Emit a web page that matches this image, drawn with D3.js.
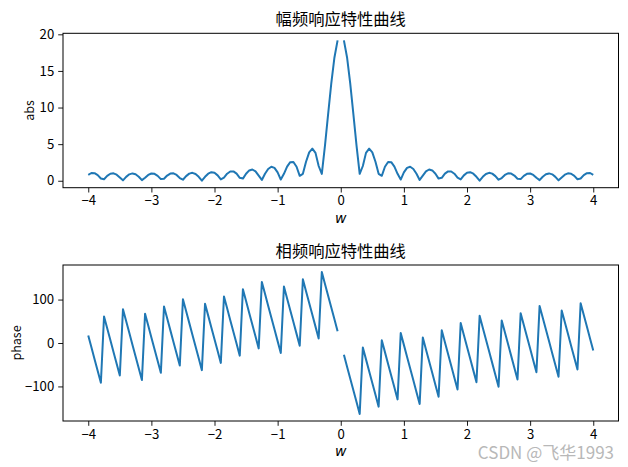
<!DOCTYPE html>
<html><head><meta charset="utf-8">
<script src="https://cdn.jsdelivr.net/npm/d3@7/dist/d3.min.js"></script>
<style>
html,body{margin:0;padding:0;background:#fff;}
svg{display:block;font-family:"Noto Sans CJK SC","DejaVu Sans",sans-serif;}
</style></head>
<body>
<script>
// frequency samples w
const w = [
-4,-3.95,-3.9,-3.85,-3.8,-3.75,-3.7,-3.65,-3.6,-3.55,
-3.5,-3.45,-3.4,-3.35,-3.3,-3.25,-3.2,-3.15,-3.1,-3.05,
-3,-2.95,-2.9,-2.85,-2.8,-2.75,-2.7,-2.65,-2.6,-2.55,
-2.5,-2.45,-2.4,-2.35,-2.3,-2.25,-2.2,-2.15,-2.1,-2.05,
-2,-1.95,-1.9,-1.85,-1.8,-1.75,-1.7,-1.65,-1.6,-1.55,
-1.5,-1.45,-1.4,-1.35,-1.3,-1.25,-1.2,-1.15,-1.1,-1.05,
-1,-0.95,-0.9,-0.85,-0.8,-0.75,-0.7,-0.65,-0.6,-0.55,
-0.5,-0.45,-0.4,-0.35,-0.3,-0.25,-0.2,-0.15,-0.1,-0.05,
0,
0.05,0.1,0.15,0.2,0.25,0.3,0.35,0.4,0.45,0.5,
0.55,0.6,0.65,0.7,0.75,0.8,0.85,0.9,0.95,1,
1.05,1.1,1.15,1.2,1.25,1.3,1.35,1.4,1.45,1.5,
1.55,1.6,1.65,1.7,1.75,1.8,1.85,1.9,1.95,2,
2.05,2.1,2.15,2.2,2.25,2.3,2.35,2.4,2.45,2.5,
2.55,2.6,2.65,2.7,2.75,2.8,2.85,2.9,2.95,3,
3.05,3.1,3.15,3.2,3.25,3.3,3.35,3.4,3.45,3.5,
3.55,3.6,3.65,3.7,3.75,3.8,3.85,3.9,3.95,4
];
// magnitude |X(w)| (value at w=0 missing in the original plot)
const absVals = [
0.819,1.059,1.038,0.766,0.313,0.207,0.669,0.963,1.018,0.826,
0.435,0.058,0.534,0.876,1.003,0.885,0.552,0.084,0.404,0.794,
0.991,0.945,0.669,0.226,0.275,0.713,0.980,1.010,0.791,0.375,
0.139,0.629,0.972,1.082,0.927,0.540,0.010,0.536,0.965,1.166,
1.085,0.732,0.184,0.429,0.959,1.271,1.280,0.969,0.401,0.295,
0.954,1.410,1.538,1.286,0.694,0.113,0.950,1.610,1.913,1.755,
1.135,0.164,0.947,1.937,2.541,2.561,1.916,0.674,0.946,2.598,
3.876,4.381,3.809,2.015,0.944,4.800,9.108,13.31,16.84,19.18,
null,
19.18,16.84,13.31,9.108,4.800,0.944,2.015,3.809,4.381,3.876,
2.598,0.946,0.674,1.916,2.561,2.541,1.937,0.947,0.164,1.135,
1.755,1.913,1.610,0.950,0.113,0.694,1.286,1.538,1.410,0.954,
0.295,0.401,0.969,1.280,1.271,0.959,0.429,0.184,0.732,1.085,
1.166,0.965,0.536,0.010,0.540,0.927,1.082,0.972,0.629,0.139,
0.375,0.791,1.010,0.980,0.713,0.275,0.226,0.669,0.945,0.991,
0.794,0.404,0.084,0.552,0.885,1.003,0.876,0.534,0.058,0.435,
0.826,1.018,0.963,0.669,0.207,0.313,0.766,1.038,1.059,0.819
];
// phase in degrees
const phaseVals = [
17.24,-9.98,-37.19,-64.41,-91.62,61.16,33.95,6.73,-20.48,-47.70,
-74.91,77.87,50.65,23.44,-3.78,-30.99,-58.21,-85.42,67.36,40.15,
12.93,-14.29,-41.50,-68.72,84.07,56.85,29.64,2.42,-24.79,-52.01,
100.78,73.56,46.34,19.13,-8.09,-35.30,-62.52,90.27,63.05,35.84,
8.62,-18.60,-45.81,106.97,79.76,52.54,25.33,-1.89,-29.10,123.68,
96.47,69.25,42.03,14.82,-12.40,140.39,113.17,85.96,58.74,31.53,
4.31,-22.91,129.88,102.66,75.45,48.23,21.02,-6.20,146.59,119.37,
92.16,64.94,37.72,10.51,163.29,136.08,108.86,81.65,54.43,27.22,
null,
-27.22,-54.43,-81.65,-108.86,-136.08,-163.29,-10.51,-37.72,-64.94,-92.16,
-119.37,-146.59,6.20,-21.02,-48.23,-75.45,-102.66,-129.88,22.91,-4.31,
-31.53,-58.74,-85.96,-113.17,-140.39,12.40,-14.82,-42.03,-69.25,-96.47,
-123.68,29.10,1.89,-25.33,-52.54,-79.76,-106.97,45.81,18.60,-8.62,
-35.84,-63.05,-90.27,62.52,35.30,8.09,-19.13,-46.34,-73.56,-100.78,
52.01,24.79,-2.42,-29.64,-56.85,-84.07,68.72,41.50,14.29,-12.93,
-40.15,-67.36,85.42,58.21,30.99,3.78,-23.44,-50.65,-77.87,74.91,
47.70,20.48,-6.73,-33.95,-61.16,91.62,64.41,37.19,9.98,-17.24
];
const xTicks = [-4,-3,-2,-1,0,1,2,3,4];
const absTicks = [0,5,10,15,20];
const phaseTicks = [-100,0,100];
const titles = ["幅频响应特性曲线","相频响应特性曲线"];
const yLabels = ["abs","phase"];
const xLabel = "w";

const W = 628, H = 467;
const svg = d3.select("body").append("svg").attr("width", W).attr("height", H);

const left = 63, right = 618.5;
const panels = [
  {vals: absVals, ticks: absTicks, top: 33.3, bottom: 187.7, title: titles[0], ylab: yLabels[0], ylabX: 28},
  {vals: phaseVals, ticks: phaseTicks, top: 265, bottom: 421, title: titles[1], ylab: yLabels[1], ylabX: 15}
];

function padded(ext){ const m = (ext[1]-ext[0])*0.05; return [ext[0]-m, ext[1]+m]; }

const xExt = padded(d3.extent(w));
const tickFont = 13.2;

panels.forEach(p => {
  const x = d3.scaleLinear().domain(xExt).range([left, right]);
  const y = d3.scaleLinear().domain(padded(d3.extent(p.vals.filter(v => v !== null)))).range([p.bottom, p.top]);
  const g = svg.append("g");

  const data = w.map((d,i) => [d, p.vals[i]]);
  const line = d3.line().defined(d => d[1] !== null).x(d => x(d[0])).y(d => y(d[1]));

  g.append("defs").append("clipPath").attr("id", "clip" + p.top)
    .append("rect").attr("x", left).attr("y", p.top).attr("width", right-left).attr("height", p.bottom-p.top);

  g.append("path").datum(data).attr("d", line)
    .attr("fill","none").attr("stroke","#1f77b4").attr("stroke-width",2)
    .attr("stroke-linejoin","round").attr("stroke-linecap","butt")
    .attr("clip-path","url(#clip" + p.top + ")");

  const xa = g.append("g").attr("transform", `translate(0,${p.bottom})`)
    .call(d3.axisBottom(x).tickValues(xTicks).tickSize(4.8).tickPadding(3.5).tickSizeOuter(0));
  const ya = g.append("g").attr("transform", `translate(${left},0)`)
    .call(d3.axisLeft(y).tickValues(p.ticks).tickSize(4.8).tickPadding(4).tickSizeOuter(0));
  [xa, ya].forEach(a => {
    a.select(".domain").remove();
    a.selectAll("line").attr("stroke","#000").attr("stroke-width",0.9);
    a.selectAll("text").attr("fill","#000").style("font-size", tickFont + "px")
      .style("font-family", '"Noto Sans CJK SC", sans-serif');
  });

  g.append("rect").attr("x", left).attr("y", p.top).attr("width", right-left).attr("height", p.bottom-p.top)
    .attr("fill","none").attr("stroke","#000").attr("stroke-width",1);

  g.append("text").attr("x", (left+right)/2).attr("y", p.top - 8)
    .attr("text-anchor","middle").style("font-size","16.3px").attr("fill","#000").text(p.title);

  g.append("text").attr("x", (left+right)/2).attr("y", p.bottom + 35)
    .attr("text-anchor","middle").style("font-size","14px").style("font-style","italic")
    .style("font-family",'"DejaVu Sans", sans-serif').attr("fill","#000").text(xLabel);

  g.append("text").attr("transform", `translate(${p.ylabX},${(p.top+p.bottom)/2}) rotate(-90)`)
    .attr("text-anchor","middle").attr("dominant-baseline","central")
    .style("font-size", "12.5px").attr("fill","#000").text(p.ylab);
});

svg.append("text").attr("x", 614).attr("y", 459).attr("text-anchor","end")
  .style("font-size","17px").attr("fill","#b8b8b8").text("CSDN @飞华1993");
</script>
</body></html>
